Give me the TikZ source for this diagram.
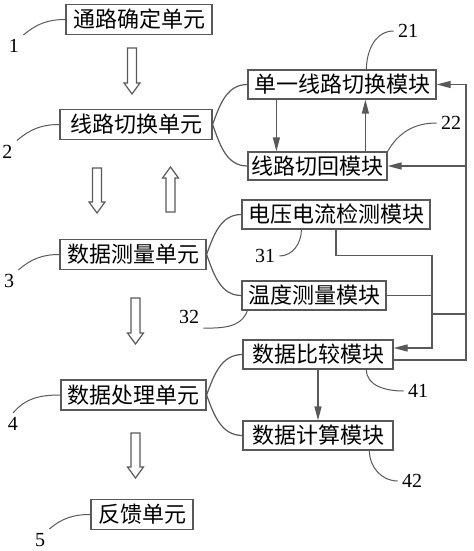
\documentclass[tikz,border=0pt]{standalone}
\usepackage{fontspec}
\setmainfont{Liberation Serif}
\newfontfamily\cjk{Noto Sans CJK SC}
\usepackage{tikz}
\usetikzlibrary{arrows.meta}
\definecolor{linegray}{gray}{0.35}
\tikzset{
    unit/.style={draw=linegray, line width=0.6pt, minimum height=15pt, inner sep=0pt, font=\cjk\fontsize{11}{13}\selectfont},
    line/.style={draw=linegray, line width=0.6pt},
    conn/.style={line, -{Triangle[length=7pt,width=3.5pt]}},
    lead/.style={draw=linegray, line width=0.5pt},
    num/.style={inner sep=2pt, font=\fontsize{10}{12}\selectfont}
}
\newcommand{\blockarrow}[4]{%
    \draw[line, line join=miter] ({#1-4.5},#2) -- ({#1-4.5},#3) -- ({#1-8},#3) -- (#1,#4) -- ({#1+8},#3) -- ({#1+4.5},#3) -- ({#1+4.5},#2) -- cycle;}

\begin{document}
\begin{tikzpicture}[x=0.5pt, y=-0.5pt]
            \useasboundingbox (0,0) rectangle (474,551);
            \node[unit, minimum width=73pt] (u1) at (139,19.5) {通路确定单元};
            \node[unit, minimum width=76pt] (u2) at (136,124.5) {线路切换单元};
            \node[unit, minimum width=73pt] (u3) at (133,254.5) {数据测量单元};
            \node[unit, minimum width=72.5pt] (u4) at (133.5,395) {数据处理单元};
            \node[unit, minimum width=51pt] (u5) at (142,514.5) {反馈单元};
            \node[unit, minimum width=94pt, minimum height=14.5pt] (m21) at (342,84.5) {单一线路切换模块};
            \node[unit, minimum width=69.5pt, minimum height=14pt] (m22) at (317.5,166) {线路切回模块};
            \node[unit, minimum width=94pt, minimum height=14.5pt] (m31) at (336,214.5) {电压电流检测模块};
            \node[unit, minimum width=72pt, minimum height=14.5pt] (m32) at (314,295.5) {温度测量模块};
            \node[unit, minimum width=75pt, minimum height=14.5pt] (m41) at (318,354.5) {数据比较模块};
            \node[unit, minimum width=75pt, minimum height=14.5pt] (m42) at (318,435.5) {数据计算模块};

            \blockarrow{132}{48}{83}{94}
            \blockarrow{97}{168}{202}{213}
            \blockarrow{170.5}{212}{178}{167}
            \blockarrow{135.5}{298}{333}{344}
            \blockarrow{135.5}{433}{467}{478}

            \draw[line] (u2.east) to[out=70, in=180] (m21.west);
            \draw[line] (u2.east) to[out=-70, in=180] (m22.west);
            \draw[line] (u3.east) to[out=70, in=180] (m31.west);
            \draw[line] (u3.east) to[out=-70, in=180] (m32.west);
            \draw[line] (u4.east) to[out=70, in=180] (m41.west);
            \draw[line] (u4.east) to[out=-70, in=180] (m42.west);

            \draw[conn] ([xshift=14.5pt]m21.south west) -- ([xshift=14.5pt]m22.north west);
            \draw[conn] ([xshift=59pt]m22.north west) -- ([xshift=59pt]m21.south west);
            \draw[conn] (m41) -- (m42);

            \coordinate (lbus) at (432,314);
            \coordinate (rbus) at (466,314);
            \draw[conn] ([yshift=-2.75pt]m41.east) -| (rbus |- m21.east) -- (m21.east);
            \draw[conn] (rbus |- m22.east) -- (m22.east);
            \draw[conn] (m31.south) -- ++(0,26) -| ([yshift=3.25pt]m41.east -| lbus) -- ([yshift=3.25pt]m41.east);
            \draw[line] (m32.east) -- (m32.east -| lbus);
            \draw[line] (lbus) -- (rbus);

            \node[num] (n1) at (14,46) {1};
            \node[num] (n2) at (7.5,151.5) {2};
            \node[num] (n3) at (9,281) {3};
            \node[num] (n4) at (13,424) {4};
            \node[num] (n5) at (40,540) {5};
            \node[num] (n21) at (408,31) {21};
            \node[num] (n22) at (451,123) {22};
            \node[num] (n31) at (265,256) {31};
            \node[num] (n32) at (189,317) {32};
            \node[num] (n41) at (418,391) {41};
            \node[num] (n42) at (412,481) {42};

            \draw[lead] (n1.north east) to[out=40, in=180] (u1.west);
            \draw[lead] (n2.north east) to[out=40, in=180] (u2.west);
            \draw[lead] (n3.north east) to[out=40, in=180] (u3.west);
            \draw[lead] (n4.north) to[out=50, in=180] (u4.west);
            \draw[lead] (n5.north east) to[out=40, in=180] (u5.west);
            \draw[lead] (n21.west) to[out=180, in=90] ([xshift=59.5pt]m21.north west);
            \draw[lead] (n22.west) to[out=180, in=60] (m22.north east);
            \draw[lead] (n31.east) to[out=0, in=-90] ([xshift=30pt]m31.south west);
            \draw[lead] (n32.south east) to[out=0, in=-110] ([xshift=3pt]m32.south west);
            \draw[lead] (n41.west) to[out=180, in=-90] ([xshift=62pt]m41.south west);
            \draw[lead] (n42.west) to[out=180, in=-90] ([xshift=63.5pt]m42.south west);
\end{tikzpicture}
\end{document}
